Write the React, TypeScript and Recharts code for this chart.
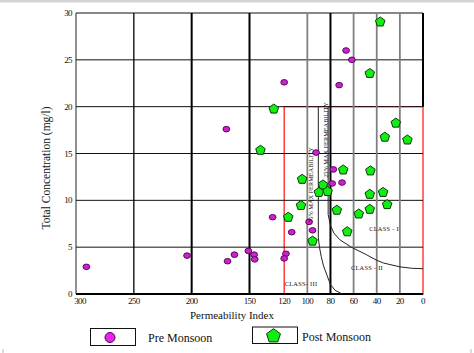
import React from 'react';
import { ScatterChart, Scatter, XAxis, YAxis, ReferenceLine, ReferenceArea } from 'recharts';

// Permeability index (%) and total concentration (meq/l) — Pre Monsoon
const prePI = [291, 204, 169, 163, 151, 146, 145.5, 118.5, 120, 130, 170, 120, 66.5, 61.5, 72.5, 92.5, 77.5, 78.5, 70, 98.5, 95.5, 113.5];
const preTC = [2.9, 4.1, 3.5, 4.2, 4.6, 4.2, 3.7, 4.3, 3.8, 8.2, 17.6, 22.6, 26, 25, 22.3, 15.1, 13.3, 11.8, 11.9, 7.7, 6.8, 6.6];

// Post Monsoon
const postPI = [37, 46, 23.5, 33, 13.5, 129, 140.5, 104.5, 105.5, 116.5, 69, 45.5, 86.5, 90, 82.5, 46, 34.5, 74.5, 55.5, 46, 31, 65.5, 95.5];
const postTC = [29.1, 23.6, 18.3, 16.8, 16.5, 19.8, 15.4, 12.3, 9.5, 8.25, 13.3, 13.2, 11.7, 10.9, 11.0, 10.7, 10.9, 9.0, 8.6, 9.1, 9.6, 6.7, 5.7];

// Doneen class boundaries
const curveIIIPI = [90.5, 90.5, 89.5, 88, 86, 83, 80, 76, 70];
const curveIIITC = [20, 6, 5, 4, 3, 2, 1, 0.4, 0];
const curveIIPI = [82, 82, 80, 77, 72, 62, 49, 40, 34, 20, 10, 0];
const curveIITC = [20, 8.5, 7.3, 6.5, 5.8, 5.0, 4.2, 3.6, 3.3, 2.9, 2.75, 2.7];

const xTicks = [300, 250, 200, 150, 120, 100, 80, 60, 40, 20, 0];
const yTicks = [0, 5, 10, 15, 20, 25, 30];
const blackGridX = [250, 200, 150];
const grayGridX = [100, 60, 40, 20];
const gridY = [5, 10, 15, 20, 25, 30];

const zip = (xs: number[], ys: number[]) => xs.map((x, i) => ({ pi: x, tc: ys[i] }));
const preData = zip(prePI, preTC);
const postData = zip(postPI, postTC);
const curve3 = zip(curveIIIPI, curveIIITC);
const curve2 = zip(curveIIPI, curveIITC);

const FONT = "'Liberation Serif', 'Times New Roman', 'DejaVu Serif', serif";
const T: React.CSSProperties = { fontFamily: FONT };

const pentagonPoints = (cx: number, cy: number, r: number) =>
  Array.from({ length: 5 }, (_, k) => {
    const a = -Math.PI / 2 + (k * 2 * Math.PI) / 5;
    return `${(cx + r * Math.cos(a)).toFixed(2)},${(cy + r * Math.sin(a)).toFixed(2)}`;
  }).join(' ');

const PreShape = (props: any) => (
  <ellipse cx={props.cx} cy={props.cy} rx={3.4} ry={2.8} fill="#cc22cc" stroke="#4a0050" strokeWidth={0.9} />
);
const PostShape = (props: any) => (
  <polygon points={pentagonPoints(props.cx, props.cy + 0.5, 5)} fill="#11ee11" stroke="#0a3a0a" strokeWidth={1} />
);
const NoShape = () => <g />;

const XTick = (props: any) => {
  const { x, y, payload } = props;
  const dx = payload.value === 300 ? 4 : 0;
  return (
    <text x={x + dx} y={y + 10} textAnchor="middle" fontSize={9} style={T} fill="#111" letterSpacing={-0.6}>
      {payload.value}
    </text>
  );
};
const YTick = (props: any) => {
  const { x, y, payload } = props;
  return (
    <text x={x - 4} y={y + 3} textAnchor="end" fontSize={9} style={T} fill="#111" letterSpacing={-0.6}>
      {payload.value}
    </text>
  );
};

export default function App() {
  return (
    <div style={{ position: 'absolute', left: 0, top: 0, width: 474, height: 353, background: '#fff', fontFamily: FONT }}>
      <ScatterChart width={474} height={353} margin={{ top: 13, right: 51, bottom: 0, left: 0 }}>
        <XAxis
          dataKey="pi"
          type="number"
          domain={[0, 300]}
          reversed
          ticks={xTicks}
          interval={0}
          height={59}
          tickLine={false}
          tickSize={0}
          tickMargin={0}
          tick={<XTick />}
          axisLine={{ stroke: '#000', strokeWidth: 2 }}
          allowDataOverflow
        />
        <YAxis
          dataKey="tc"
          type="number"
          domain={[0, 30]}
          ticks={yTicks}
          interval={0}
          width={76}
          tickLine={false}
          tickSize={0}
          tickMargin={0}
          tick={<YTick />}
          axisLine={{ stroke: '#222', strokeWidth: 1 }}
          allowDataOverflow
        />
        {gridY.map((v) => (
          <ReferenceLine key={'gy' + v} y={v} stroke="#111" strokeWidth={1} />
        ))}
        {grayGridX.map((v) => (
          <ReferenceLine key={'gx' + v} x={v} stroke="#808080" strokeWidth={1.8} />
        ))}
        {blackGridX.map((v) => (
          <ReferenceLine key={'bx' + v} x={v} stroke="#000" strokeWidth={v === 250 ? 1.3 : 2} />
        ))}
        <ReferenceLine x={80} stroke="#000" strokeWidth={2} />
        <ReferenceLine segment={[{ x: 0, y: 20 }, { x: 0, y: 30 }]} stroke="#000" strokeWidth={2} />
        <ReferenceArea x1={120} x2={0} y1={0} y2={20} fill="none" fillOpacity={0} stroke="#ff2020" strokeWidth={1.3} />
        <Scatter data={curve3} line={{ stroke: '#222', strokeWidth: 1 }} shape={<NoShape />} isAnimationActive={false} />
        <Scatter data={curve2} line={{ stroke: '#222', strokeWidth: 1 }} shape={<NoShape />} isAnimationActive={false} />
        <Scatter name="Pre Monsoon" data={preData} shape={<PreShape />} isAnimationActive={false} />
        <Scatter name="Post Monsoon" data={postData} shape={<PostShape />} isAnimationActive={false} />
      </ScatterChart>
      <svg width={474} height={353} style={{ position: 'absolute', left: 0, top: 0, pointerEvents: 'none', fontFamily: FONT }}>
        <line x1={0} y1={1} x2={474} y2={1} stroke="#d4d4d4" strokeWidth={3} />
        <line x1={3} y1={349} x2={3} y2={353} stroke="#bbb" strokeWidth={1} />
        <line x1={471} y1={349} x2={471} y2={353} stroke="#bbb" strokeWidth={1} />
        <text x={47} y={168} transform="rotate(-90 47 168)" textAnchor="middle" dominantBaseline="middle" fontSize={11.5} style={T} fill="#111">
          Total Concentration (mg/l)
        </text>
        <text x={232} y={319} textAnchor="middle" fontSize={11} style={T} fill="#111">
          Permeability Index
        </text>
        <text x={312} y={185} transform="rotate(-90 312 185)" textAnchor="middle" dominantBaseline="middle" fontSize={6.3} style={T} fill="#111">
          75% MAX PERMEABILITY
        </text>
        <text x={326.5} y={140} transform="rotate(-90 326.5 140)" textAnchor="middle" dominantBaseline="middle" fontSize={6.3} style={T} fill="#111">
          25% MAX PERMEABILITY
        </text>
        <text x={384} y={231} textAnchor="middle" fontSize={6.3} style={T} fill="#111" letterSpacing={0.3}>
          CLASS - I
        </text>
        <text x={367} y={269.5} textAnchor="middle" fontSize={6.3} style={T} fill="#111" letterSpacing={0.3}>
          CLASS - II
        </text>
        <text x={301} y={286} textAnchor="middle" fontSize={6.3} style={T} fill="#111" letterSpacing={0.3}>
          CLASS- III
        </text>
        <rect x={90.5} y={328.5} width={45} height={17} fill="#fff" stroke="#111" strokeWidth={1} />
        <ellipse cx={110} cy={337.5} rx={5} ry={5} fill="#ee22ee" stroke="#4a0050" strokeWidth={1} />
        <text x={148} y={341.5} fontSize={12} style={T} fill="#111">Pre Monsoon</text>
        <rect x={252.5} y={327} width={45} height={16.5} fill="#fff" stroke="#111" strokeWidth={1} />
        <polygon points={pentagonPoints(273.5, 336, 7.3)} fill="#11ee11" stroke="#0a3a0a" strokeWidth={1} />
        <text x={302} y={341} fontSize={12} style={T} fill="#111">Post Monsoon</text>
      </svg>
    </div>
  );
}
